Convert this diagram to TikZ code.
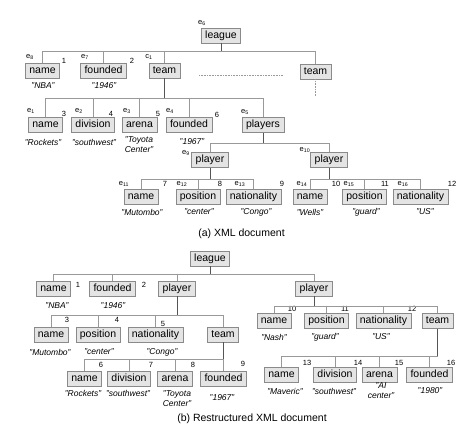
\documentclass[tikz,border=0pt]{standalone}
\usepackage{fontspec}
\setmainfont{Liberation Sans}
\definecolor{boxfill}{HTML}{E4E4E4}
\definecolor{boxborder}{HTML}{8A8A8A}
\definecolor{linegray}{HTML}{999999}
\definecolor{stubgray}{HTML}{555555}
\tikzset{
  box/.style={draw=boxborder, fill=boxfill, line width=0.6pt, font=\fontsize{10.5}{12}\selectfont,
    inner xsep=4pt, inner ysep=0pt, minimum height=15pt, text height=7.8pt, text depth=2.2pt},
  val/.style={font=\fontsize{8.5}{10}\selectfont\itshape, align=center, inner sep=0pt},
  num/.style={font=\fontsize{7.5}{8}\selectfont, inner sep=0pt},
  elab/.style={font=\fontsize{7.5}{8}\selectfont, inner sep=0pt},
  conn/.style={draw=linegray, line width=0.6pt},
  stub/.style={draw=stubgray, line width=0.6pt},
  dotln/.style={draw=linegray, line width=0.5pt, dash pattern=on 0.8pt off 0.8pt},
  captxt/.style={font=\fontsize{10.5}{12}\selectfont, inner sep=0pt},
}
\begin{document}
\begin{tikzpicture}[x=1pt,y=-1pt]
\useasboundingbox (0,0) rectangle (474,429);
% ================= (a) =================
\node[box] (aL) at (221,35.5) {league};
\node[elab] (e6) at (202,23) {e\textsubscript{6}};
% level 1
\node[box] (aN) at (42.5,70.5) {name};
\node[box] (aF) at (103.5,70.5) {founded};
\node[box] (aT) at (164.5,70.5) {team};
\node[box] (aT2) at (315.5,71.5) {team};
\node[elab] (e8) at (30,57) {e\textsubscript{8}};
\node[elab] (e7) at (85,57) {e\textsubscript{7}};
\node[elab] (c1) at (149,57) {c\textsubscript{1}};
\node[num] (n1) at (64,61) {1};
\node[num] (n2) at (132,61) {2};
\node[val] (vNBA) at (43,86) {"NBA"};
\node[val] (v1946) at (104,86) {"1946"};
\coordinate (dotA) at (199,75);
\coordinate (dotB) at (283,75);
\draw[dotln] (dotA) -- (dotB);
\coordinate (dotC) at (315.5,96);
\draw[dotln] (aT2.south) -- (dotC);
\foreach \c in {aN,aF,aT,aT2} \draw[conn] (aL.south) -- ++(0,8) -| (\c.north);
\draw[stub] (aL.south) -- ++(0,8);
% level 2
\node[box] (bN) at (45.5,124.5) {name};
\node[box] (bD) at (93,124.5) {division};
\node[box] (bA) at (139.5,124.5) {arena};
\node[box] (bF) at (189,124.5) {founded};
\node[box] (bP) at (263,125) {players};
\node[elab] (e1) at (31,111) {e\textsubscript{1}};
\node[elab] (e2) at (79,111) {e\textsubscript{2}};
\node[elab] (e3) at (127,111) {e\textsubscript{3}};
\node[elab] (e4) at (170,111) {e\textsubscript{4}};
\node[elab] (e5) at (245,112) {e\textsubscript{5}};
\node[num] (n3) at (64,114) {3};
\node[num] (n4) at (111,114) {4};
\node[num] (n5) at (158,114) {5};
\node[num] (n6) at (217,115) {6};
\node[val] (vRockets) at (43,142) {"Rockets"};
\node[val] (vSW) at (94,142) {"southwest"};
\node[val,anchor=north] (vToyota) at (139,136) {"Toyota\\Center"};
\node[val] (v1967) at (192,142) {"1967"};
\foreach \c in {bN,bD,bA,bF,bP} \draw[conn] (aT.south) -- ++(0,19.5) -| (\c.north);
\draw[stub] (aT.south) -- ++(0,19.5);
% level 3
\node[box] (p9) at (210,160) {player};
\node[box] (p10) at (329,160) {player};
\node[elab] (e9) at (186,153) {e\textsubscript{9}};
\node[elab] (e10) at (305,150) {e\textsubscript{10}};
\foreach \c in {p9,p10} \draw[conn] (bP.south) -- ++(0,10.5) -| (\c.north);
\draw[stub] (bP.south) -- ++(0,10.5);
% level 4
\node[box] (qN1) at (141,196.5) {name};
\node[box] (qP1) at (198,196.5) {position};
\node[box] (qA1) at (253.5,196.5) {nationality};
\node[box] (qN2) at (310,196.5) {name};
\node[box] (qP2) at (364.5,196.5) {position};
\node[box] (qA2) at (420.5,196.5) {nationality};
\node[elab] (e11) at (124,184) {e\textsubscript{11}};
\node[elab] (e12) at (182,184) {e\textsubscript{12}};
\node[elab] (e13) at (240,184) {e\textsubscript{13}};
\node[elab] (e14) at (302,184) {e\textsubscript{14}};
\node[elab] (e15) at (349,184) {e\textsubscript{15}};
\node[elab] (e16) at (403,184) {e\textsubscript{16}};
\node[num] (n7) at (165,184) {7};
\node[num] (n8) at (220,184) {8};
\node[num] (n9) at (282,184) {9};
\node[num] (n10) at (336,184) {10};
\node[num] (n11) at (385,184) {11};
\node[num] (n12) at (452,184) {12};
\node[val] (vMut) at (142,212) {"Mutombo"};
\node[val] (vCen) at (199,212) {"center"};
\node[val] (vCon) at (256,212) {"Congo"};
\node[val] (vWel) at (310,212) {"Wells"};
\node[val] (vGua) at (366,212) {"guard"};
\node[val] (vUS) at (425,212) {"US"};
\foreach \c in {qN1,qP1,qA1} \draw[conn] (p9.south) -- ++(0,11.5) -| (\c.north);
\foreach \c in {qN2,qP2,qA2} \draw[conn] (p10.south) -- ++(0,11.5) -| (\c.north);
\draw[stub] (p9.south) -- ++(0,11.5);
\draw[stub] (p10.south) -- ++(0,11.5);
\node[captxt] (capA) at (241.5,234) {(a) XML document};
% ================= (b) =================
\node[box] (BL) at (210,258.5) {league};
\node[box] (BN) at (53.5,288.5) {name};
\node[box] (BF) at (112.5,288.5) {founded};
\node[box] (BPL) at (177,288.5) {player};
\node[box] (BPR) at (314,288.5) {player};
\node[num] (m1) at (78,285) {1};
\node[num] (m2) at (144,285) {2};
\node[val] (wNBA) at (57,306) {"NBA"};
\node[val] (w1946) at (113,306) {"1946"};
\foreach \c in {BN,BF,BPL,BPR} \draw[conn] (BL.south) -- ++(0,8) -| (\c.north);
\draw[stub] (BL.south) -- ++(0,8);
% left player children
\node[box] (CN) at (51,334.5) {name};
\node[box] (CP) at (98,334.5) {position};
\node[box] (CA) at (155.5,334.5) {nationality};
\node[box] (CT) at (223,334.5) {team};
\node[num] (m3) at (67,320) {3};
\node[num] (m4) at (117,320) {4};
\node[num] (m5) at (163,324) {5};
\node[val] (wMut) at (50,352) {"Mutombo"};
\node[val] (wCen) at (99,352) {"center"};
\node[val] (wCon) at (162,352) {"Congo"};
\foreach \c in {CN,CP,CA,CT} \draw[conn] (BPL.south) -- ++(0,19) -| (\c.north);
\draw[stub] (BPL.south) -- ++(0,19);
% left team children
\node[box] (DN) at (84.5,379) {name};
\node[box] (DD) at (129,379) {division};
\node[box] (DA) at (175,379) {arena};
\node[box] (DF) at (223.5,379) {founded};
\node[num] (m6) at (101,365) {6};
\node[num] (m7) at (151,365) {7};
\node[num] (m8) at (193,365) {8};
\node[num] (m9) at (243,364) {9};
\node[val] (wRoc) at (83,393) {"Rockets"};
\node[val] (wSW) at (128,393) {"southwest"};
\node[val,anchor=north] (wToy) at (177,390) {"Toyota\\Center"};
\node[val] (w1967) at (222,398) {"1967"};
\foreach \c in {DN,DD,DA,DF} \draw[conn] (CT.south) -- ++(0,17) -| (\c.north);
\draw[stub] (CT.south) -- ++(0,17);
% right player children
\node[box] (EN) at (274,321) {name};
\node[box] (EP) at (326.5,321) {position};
\node[box] (EA) at (383.5,321) {nationality};
\node[box] (ET) at (437.5,321) {team};
\node[num] (m10) at (292,309) {10};
\node[num] (m11) at (345,309) {11};
\node[num] (m12) at (412,309) {12};
\node[val] (wNas) at (274,337) {"Nash"};
\node[val] (wGua) at (325,337) {"guard"};
\node[val] (wUS) at (381,337) {"US"};
\foreach \c in {EN,EP,EA,ET} \draw[conn] (BPR.south) -- ++(0,10) -| (\c.north);
\draw[stub] (BPR.south) -- ++(0,10);
% right team children
\node[box] (FN) at (281.5,374.5) {name};
\node[box] (FD) at (335,374.5) {division};
\node[box] (FA) at (379.5,374.5) {arena};
\node[box] (FF) at (429.5,374.5) {founded};
\node[num] (m13) at (307,363) {13};
\node[num] (m14) at (358,363) {14};
\node[num] (m15) at (399,363) {15};
\node[num] (m16) at (451,363) {16};
\node[val] (wMav) at (285,391) {"Maveric"};
\node[val] (wSW2) at (334,391) {"southwest"};
\node[val,anchor=north] (wAI) at (381,382) {"AI\\center"};
\node[val] (w1980) at (430,391) {"1980"};
\foreach \c in {FN,FD,FA,FF} \draw[conn] (ET.south) -- ++(0,27.5) -| (\c.north);
\draw[stub] (ET.south) -- ++(0,27.5);
\node[captxt] (capB) at (252,419) {(b) Restructured XML document};
\end{tikzpicture}
\end{document}
